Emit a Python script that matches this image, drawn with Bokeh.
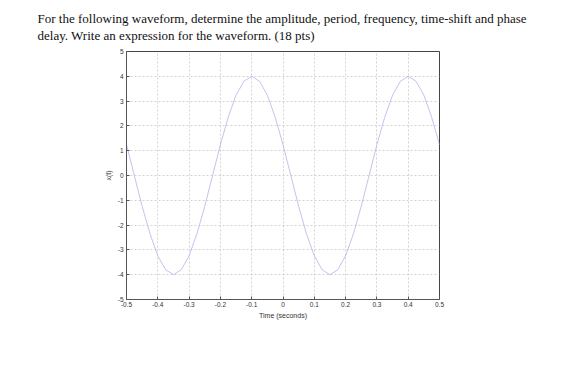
from bokeh.plotting import figure
from bokeh.models import FixedTicker, Title, Range1d
from bokeh.embed import file_html
from bokeh.resources import INLINE

# Waveform samples (time in seconds, value)
t_vals = [-0.5, -0.475, -0.45, -0.425, -0.4, -0.375, -0.35, -0.325, -0.3, -0.275,
          -0.25, -0.225, -0.2, -0.175, -0.15, -0.125, -0.1, -0.075, -0.05, -0.025,
          0.0, 0.025, 0.05, 0.075, 0.1, 0.125, 0.15, 0.175, 0.2, 0.225,
          0.25, 0.275, 0.3, 0.325, 0.35, 0.375, 0.4, 0.425, 0.45, 0.475, 0.5]
x_vals = [1.24, 0.0, -1.24, -2.35, -3.24, -3.80, -4.0, -3.80, -3.24, -2.35,
          -1.24, 0.0, 1.24, 2.35, 3.24, 3.80, 4.0, 3.80, 3.24, 2.35,
          1.24, 0.0, -1.24, -2.35, -3.24, -3.80, -4.0, -3.80, -3.24, -2.35,
          -1.24, 0.0, 1.24, 2.35, 3.24, 3.80, 4.0, 3.80, 3.24, 2.35, 1.24]

x_ticks = [-0.5, -0.4, -0.3, -0.2, -0.1, 0.0, 0.1, 0.2, 0.3, 0.4, 0.5]
x_tick_labels = ["-0.5", "-0.4", "-0.3", "-0.2", "-0.1", "0", "0.1", "0.2", "0.3", "0.4", "0.5"]
y_ticks = [-5, -4, -3, -2, -1, 0, 1, 2, 3, 4, 5]
y_tick_labels = ["-5", "-4", "-3", "-2", "-1", "0", "1", "2", "3", "4", "5"]

question_line1 = "For the following waveform, determine the amplitude, period, frequency, time-shift and phase"
question_line2 = "delay. Write an expression for the waveform. (18 pts)"

p = figure(width=565, height=365, output_backend="svg", toolbar_location=None,
           x_range=Range1d(-0.5, 0.5), y_range=Range1d(-5, 5),
           min_border_left=126, min_border_right=126, min_border_top=50, min_border_bottom=67,
           frame_width=313, frame_height=248)
p.background_fill_color = "white"
p.border_fill_color = "white"
p.outline_line_color = "#444444"
p.outline_line_width = 1

p.line(t_vals, x_vals, line_color="#b4b4ea", line_width=0.8)

for ax, ticks, labels in ((p.xaxis[0], x_ticks, x_tick_labels), (p.yaxis[0], y_ticks, y_tick_labels)):
    ax.ticker = FixedTicker(ticks=ticks)
    ax.major_label_overrides = {tk: lb for tk, lb in zip(ticks, labels)}
    ax.minor_tick_line_color = None
    ax.major_tick_in = 3
    ax.major_tick_out = 0
    ax.axis_line_color = "#555555"
    ax.major_tick_line_color = "#555555"
    ax.major_label_text_font = "Liberation Sans"
    ax.major_label_text_font_size = "6.5px"
    ax.major_label_text_color = "#333333"
    ax.axis_label_text_font = "Liberation Sans"
    ax.axis_label_text_font_size = "7px"
    ax.axis_label_text_font_style = "normal"
    ax.axis_label_text_color = "#333333"

p.xaxis[0].axis_label = "Time (seconds)"
p.xaxis[0].major_label_standoff = 2
p.xaxis[0].axis_label_standoff = 2
p.yaxis[0].axis_label = "x(t)"
p.yaxis[0].major_label_standoff = 3
p.yaxis[0].axis_label_standoff = 3

p.grid.grid_line_color = "#c8c8c8"
p.grid.grid_line_dash = "2 2"
p.grid.grid_line_width = 0.8
p.xgrid.ticker = FixedTicker(ticks=x_ticks)
p.ygrid.ticker = FixedTicker(ticks=y_ticks)

# question text as one two-line title above the frame
p.add_layout(Title(text=question_line1 + "\n" + question_line2, align="left", offset=-89,
                   standoff=17, text_line_height=1.15,
                   text_font="Liberation Serif", text_font_size="13px",
                   text_font_style="normal", text_color="#111111"), "above")

open("out.html", "w").write(file_html(p, INLINE))
